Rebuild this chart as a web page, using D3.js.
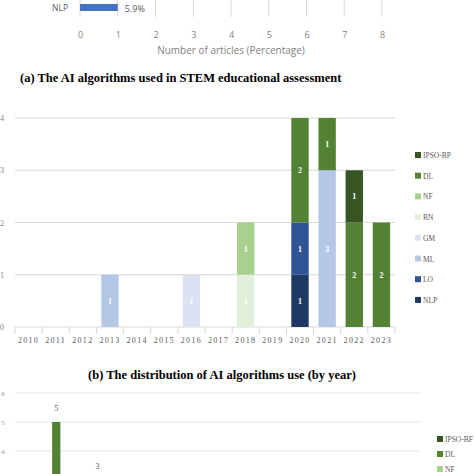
<!DOCTYPE html>
<html><head><meta charset="utf-8">
<script src="https://cdn.jsdelivr.net/npm/d3@7"></script>
<style>body{margin:0;background:#fff}svg{display:block}</style>
</head><body>
<svg id="c" width="474" height="474"></svg>
<script>
// ---- data ----
const topCats = ["NLP"];
const topValues = [1];
const topLabels = ["5.9%"];
const topTicks = [0,1,2,3,4,5,6,7,8];

const years = ["2010","2011","2012","2013","2014","2015","2016","2017","2018","2019","2020","2021","2022","2023"];
const algos = ["NLP","LO","ML","GM","BN","NF","DL","IPSO-BP"];
const algoColors = ["#1f3864","#2f5597","#b4c7e7","#dae3f3","#e2efda","#a9d18e","#548235","#375623"];
const NLP = [0,0,0,0,0,0,0,0,0,0,1,0,0,0];
const LO  = [0,0,0,0,0,0,0,0,0,0,1,0,0,0];
const ML  = [0,0,0,1,0,0,0,0,0,0,0,3,0,0];
const GM  = [0,0,0,0,0,0,1,0,0,0,0,0,0,0];
const BN  = [0,0,0,0,0,0,0,0,1,0,0,0,0,0];
const NF  = [0,0,0,0,0,0,0,0,1,0,0,0,0,0];
const DL  = [0,0,0,0,0,0,0,0,0,0,2,1,2,2];
const IPSO= [0,0,0,0,0,0,0,0,0,0,0,0,1,0];
const midSeries = [NLP,LO,ML,GM,BN,NF,DL,IPSO];
const midTicks = [0,1,2,3,4];

const botCats = ["c1","c2","c3"];
const botDL = [5,3,0];
const botTicks = [4,5,6];
const botLegend = ["IPSO-BF","DL","NF"];
const botLegendColors = ["#375623","#548235","#a9d18e"];

const svg = d3.select("#c");
const sans = "'Open Sans', 'Noto Sans', sans-serif";
const serif = "'Liberation Serif', 'DejaVu Serif', serif";

// ---- top (a) fragment ----
const xT = d3.scaleLinear().domain([0,8]).range([80,382]);
svg.append("g").selectAll("line").data(topTicks).join("line")
  .attr("x1",d=>xT(d)).attr("x2",d=>xT(d)).attr("y1",0).attr("y2",17)
  .attr("stroke","#d9d9d9");
svg.append("g").selectAll("rect").data(topValues).join("rect")
  .attr("x",xT(0)).attr("y",4).attr("width",d=>xT(d)-xT(0)).attr("height",7).attr("fill","#4472c4");
svg.append("text").attr("x",68).attr("y",11).attr("text-anchor","end").attr("font-family",sans)
  .attr("font-size",8.5).attr("fill","#595959").text(topCats[0]);
svg.append("text").attr("x",xT(topValues[0])+7).attr("y",12).attr("font-family",sans)
  .attr("font-size",9).attr("fill","#595959").text(topLabels[0]);
svg.append("g").attr("transform","translate(0,35)").call(d3.axisBottom(xT).tickValues(topTicks).tickSize(0).tickFormat(d3.format("d")))
  .call(g=>{g.select(".domain").remove();g.selectAll("text").attr("font-family",sans).attr("font-size",9).attr("fill","#7f7f7f").attr("dy",0);});
svg.append("text").attr("x",231).attr("y",54).attr("text-anchor","middle").attr("font-family",sans)
  .attr("font-size",10).attr("fill","#7f7f7f").text("Number of articles (Percentage)");
svg.append("text").attr("x",20).attr("y",82).attr("font-family",serif).attr("font-weight","bold")
  .attr("font-size",12.5).attr("fill","#000").text("(a) The AI algorithms used in STEM educational assessment");

// ---- middle (b) ----
const xM = d3.scaleBand().domain(years).range([15,395]).paddingInner(0.36).paddingOuter(0.18);
const xMb = d3.scaleBand().domain(years).range([15,395]);
const yM = d3.scaleLinear().domain([0,4]).range([327,118]);
svg.append("g").selectAll("line").data(midTicks).join("line")
  .attr("x1",15).attr("x2",395).attr("y1",d=>yM(d)).attr("y2",d=>yM(d)).attr("stroke","#d9d9d9");
svg.append("g").selectAll("line").data(d3.range(years.length+1)).join("line")
  .attr("x1",d=>15+d*xMb.bandwidth()).attr("x2",d=>15+d*xMb.bandwidth()).attr("y1",327).attr("y2",334).attr("stroke","#d9d9d9");
svg.append("g").selectAll("text").data(midTicks).join("text")
  .attr("x",2).attr("y",d=>yM(d)+3).attr("text-anchor","middle").attr("font-family",serif)
  .attr("font-size",8).attr("fill","#7f7f7f").text(d=>d);
const stackData = years.map((y,i)=>{const o={year:y};algos.forEach((a,k)=>o[a]=midSeries[k][i]);return o;});
const stacked = d3.stack().keys(algos)(stackData);
stacked.forEach((layer,k)=>{
  const g = svg.append("g");
  const vis = layer.filter(d=>d[1]>d[0]);
  g.selectAll("rect").data(vis).join("rect")
    .attr("x",d=>xM(d.data.year)).attr("width",xM.bandwidth())
    .attr("y",d=>yM(d[1])).attr("height",d=>yM(d[0])-yM(d[1])).attr("fill",algoColors[k]);
  g.selectAll("text").data(vis).join("text")
    .attr("x",d=>xM(d.data.year)+xM.bandwidth()/2).attr("y",d=>(yM(d[0])+yM(d[1]))/2+3)
    .attr("text-anchor","middle").attr("font-family",serif).attr("font-weight","bold").attr("font-size",8)
    .attr("fill","#fff").text(d=>d[1]-d[0]);
});
svg.append("g").selectAll("text").data(years).join("text")
  .attr("x",d=>xMb(d)+xMb.bandwidth()/2).attr("y",343).attr("text-anchor","middle")
  .attr("font-family",serif).attr("font-size",8).attr("letter-spacing",1.3).attr("fill","#595959").text(d=>d);
const legM = svg.append("g").selectAll("g").data(algos.slice().reverse()).join("g")
  .attr("transform",(d,i)=>`translate(415,${156+i*20.7})`);
legM.append("rect").attr("x",0).attr("y",-4).attr("width",6).attr("height",6)
  .attr("fill",d=>algoColors[algos.indexOf(d)]);
legM.append("text").attr("x",8).attr("y",2).attr("font-family",serif).attr("font-size",7.5).attr("fill","#595959").text(d=>d);
svg.append("text").attr("x",222).attr("y",379).attr("text-anchor","middle").attr("font-family",serif).attr("font-weight","bold")
  .attr("font-size",12.5).attr("fill","#000").text("(b) The distribution of AI algorithms use (by year)");

// ---- bottom (c) fragment ----
const xB = d3.scaleBand().domain(botCats).range([15,180]).paddingInner(0.8).paddingOuter(0.9);
const yB = d3.scaleLinear().domain([4,6]).range([451,393]);
svg.append("g").selectAll("line").data(botTicks).join("line")
  .attr("x1",15).attr("x2",420).attr("y1",d=>yB(d)).attr("y2",d=>yB(d)).attr("stroke","#e6e6e6");
svg.append("g").selectAll("text").data(botTicks).join("text")
  .attr("x",3).attr("y",d=>yB(d)+3).attr("text-anchor","middle").attr("font-family",serif)
  .attr("font-size",7).attr("fill","#999").text(d=>d);
const bg = svg.append("g");
bg.selectAll("rect").data(botCats.filter((c,i)=>botDL[i]>0)).join("rect")
  .attr("x",d=>xB(d)).attr("width",xB.bandwidth()).attr("y",d=>yB(botDL[botCats.indexOf(d)]))
  .attr("height",600).attr("fill","#548235");
bg.selectAll("text").data(botCats.filter((c,i)=>botDL[i]>0)).join("text")
  .attr("x",d=>xB(d)+xB.bandwidth()/2).attr("y",d=>yB(botDL[botCats.indexOf(d)])-11)
  .attr("text-anchor","middle").attr("font-family",serif).attr("font-size",8).attr("fill","#595959")
  .text(d=>botDL[botCats.indexOf(d)]);
const legB = svg.append("g").selectAll("g").data(botLegend).join("g")
  .attr("transform",(d,i)=>`translate(437,${440+i*15})`);
legB.append("rect").attr("x",0).attr("y",-4).attr("width",6).attr("height",6).attr("fill",(d,i)=>botLegendColors[i]);
legB.append("text").attr("x",8).attr("y",2).attr("font-family",serif).attr("font-size",7.5).attr("fill","#595959").text(d=>d);
</script>
</body></html>
